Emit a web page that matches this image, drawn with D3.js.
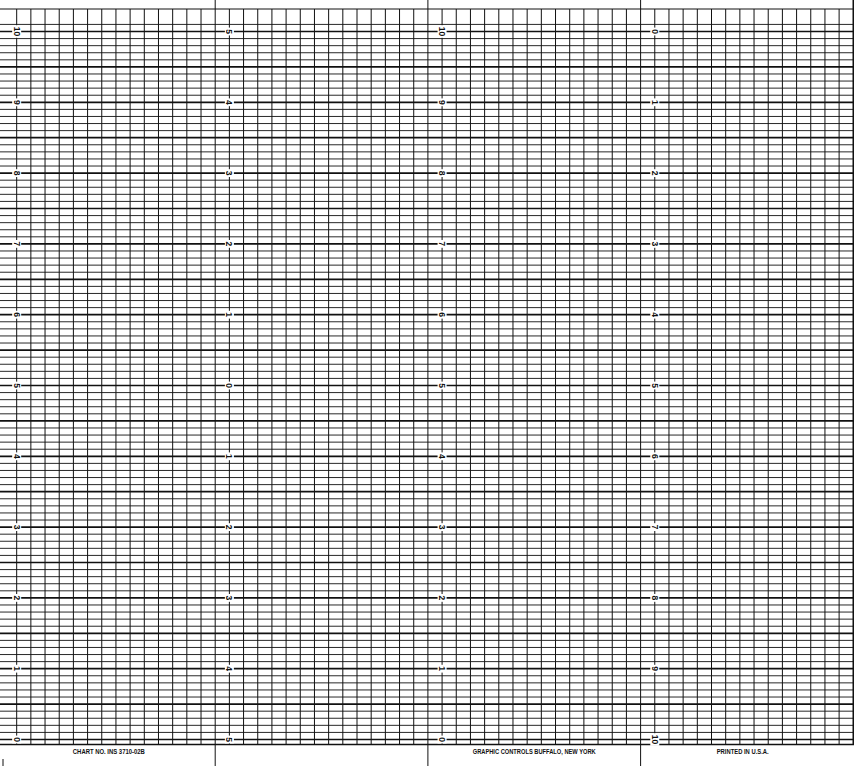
<!DOCTYPE html>
<html>
<head>
<meta charset="utf-8">
<script src="https://cdn.jsdelivr.net/npm/d3@7"></script>
<style>
  html, body { margin: 0; padding: 0; background: #fff; }
  svg { display: block; }
</style>
</head>
<body>
<svg id="chart"></svg>
<script>
// chart paper: 4 sections of 15 columns, 10 major rows of 10 minor divisions
const sectionLabels = [
  [10, 9, 8, 7, 6, 5, 4, 3, 2, 1, 0],
  [5, 4, 3, 2, 1, 0, 1, 2, 3, 4, 5],
  [10, 9, 8, 7, 6, 5, 4, 3, 2, 1, 0],
  [0, 1, 2, 3, 4, 5, 6, 7, 8, 9, 10]
];
const majorRows = [10, 9, 8, 7, 6, 5, 4, 3, 2, 1, 0];
const colsPerSection = 15;
const sections = 4;
const footerTexts = [
  { col: 7.5, text: 'CHART NO. INS 3710-02B', len: 72 },
  { col: 37.5, text: 'GRAPHIC CONTROLS  BUFFALO, NEW YORK', len: 123 },
  { col: 52.2, text: 'PRINTED IN U.S.A.', len: 52 }
];

const w = 854, h = 766;
const svg = d3.select('#chart').attr('width', w).attr('height', h);

const totalCols = colsPerSection * sections;
const x = d3.scaleLinear().domain([0, totalCols]).range([2.5, 853.3]);
const y = d3.scaleLinear().domain([0, 10]).range([739.5, 31.5]);
const topBorder = 9, bottomBorder = 744.5;

// horizontal lines: minor every 0.1, heavier every 0.5, one extra above the top
const hVals = d3.range(0, 102).map(i => i / 10);
svg.append('g').selectAll('line')
  .data(hVals)
  .enter().append('line')
  .attr('x1', 0).attr('x2', w)
  .attr('y1', d => y(d)).attr('y2', d => y(d))
  .attr('stroke', '#111')
  .attr('stroke-width', d => Math.round(d * 10) % 5 === 0 ? 1.7 : 0.9);

// top and bottom borders
svg.append('line').attr('x1', 0).attr('x2', w)
  .attr('y1', topBorder).attr('y2', topBorder)
  .attr('stroke', '#111').attr('stroke-width', 1);
svg.append('line').attr('x1', 0).attr('x2', w)
  .attr('y1', bottomBorder).attr('y2', bottomBorder)
  .attr('stroke', '#111').attr('stroke-width', 1.7);

// vertical lines
const vCols = d3.range(1, totalCols + 1);
svg.append('g').selectAll('line')
  .data(vCols)
  .enter().append('line')
  .attr('x1', d => x(d)).attr('x2', d => x(d))
  .attr('y1', d => d % colsPerSection === 0 ? 0 : topBorder)
  .attr('y2', d => (d % colsPerSection === 0 && d < totalCols) ? h : bottomBorder)
  .attr('stroke', '#111')
  .attr('stroke-width', d => d === totalCols ? 1.6 : 1);

// short tick at the left edge below the grid
svg.append('line').attr('x1', 3).attr('x2', 3)
  .attr('y1', 759).attr('y2', h)
  .attr('stroke', '#111').attr('stroke-width', 1);

// rotated scale labels on the first line of each section
sectionLabels.forEach((labels, s) => {
  const lx = x(s * colsPerSection + 1);
  const g = svg.append('g');
  const items = g.selectAll('g')
    .data(labels.map((lab, i) => ({ lab, row: majorRows[i] })))
    .enter().append('g')
    .attr('transform', d => `translate(${lx},${y(d.row)})`);
  items.append('rect')
    .attr('x', -4.5)
    .attr('y', d => -String(d.lab).length * 2.4 - 1.5)
    .attr('width', 9)
    .attr('height', d => String(d.lab).length * 4.8 + 3)
    .attr('fill', '#fff');
  items.append('text')
    .attr('transform', 'rotate(90)')
    .attr('text-anchor', 'middle')
    .attr('dy', '0.36em')
    .attr('font-family', 'Liberation Sans, Arial, sans-serif')
    .attr('font-size', 8.5)
    .attr('font-weight', 'bold')
    .attr('fill', '#111')
    .text(d => d.lab);
});

// footer texts
svg.append('g').selectAll('text')
  .data(footerTexts)
  .enter().append('text')
  .attr('x', d => x(d.col))
  .attr('y', 754)
  .attr('text-anchor', 'middle')
  .attr('font-family', 'Liberation Sans, Arial, sans-serif')
  .attr('font-size', 6.5)
  .attr('font-weight', 'bold')
  .attr('fill', '#111')
  .attr('textLength', d => d.len)
  .attr('lengthAdjust', 'spacingAndGlyphs')
  .text(d => d.text);
</script>
</body>
</html>
